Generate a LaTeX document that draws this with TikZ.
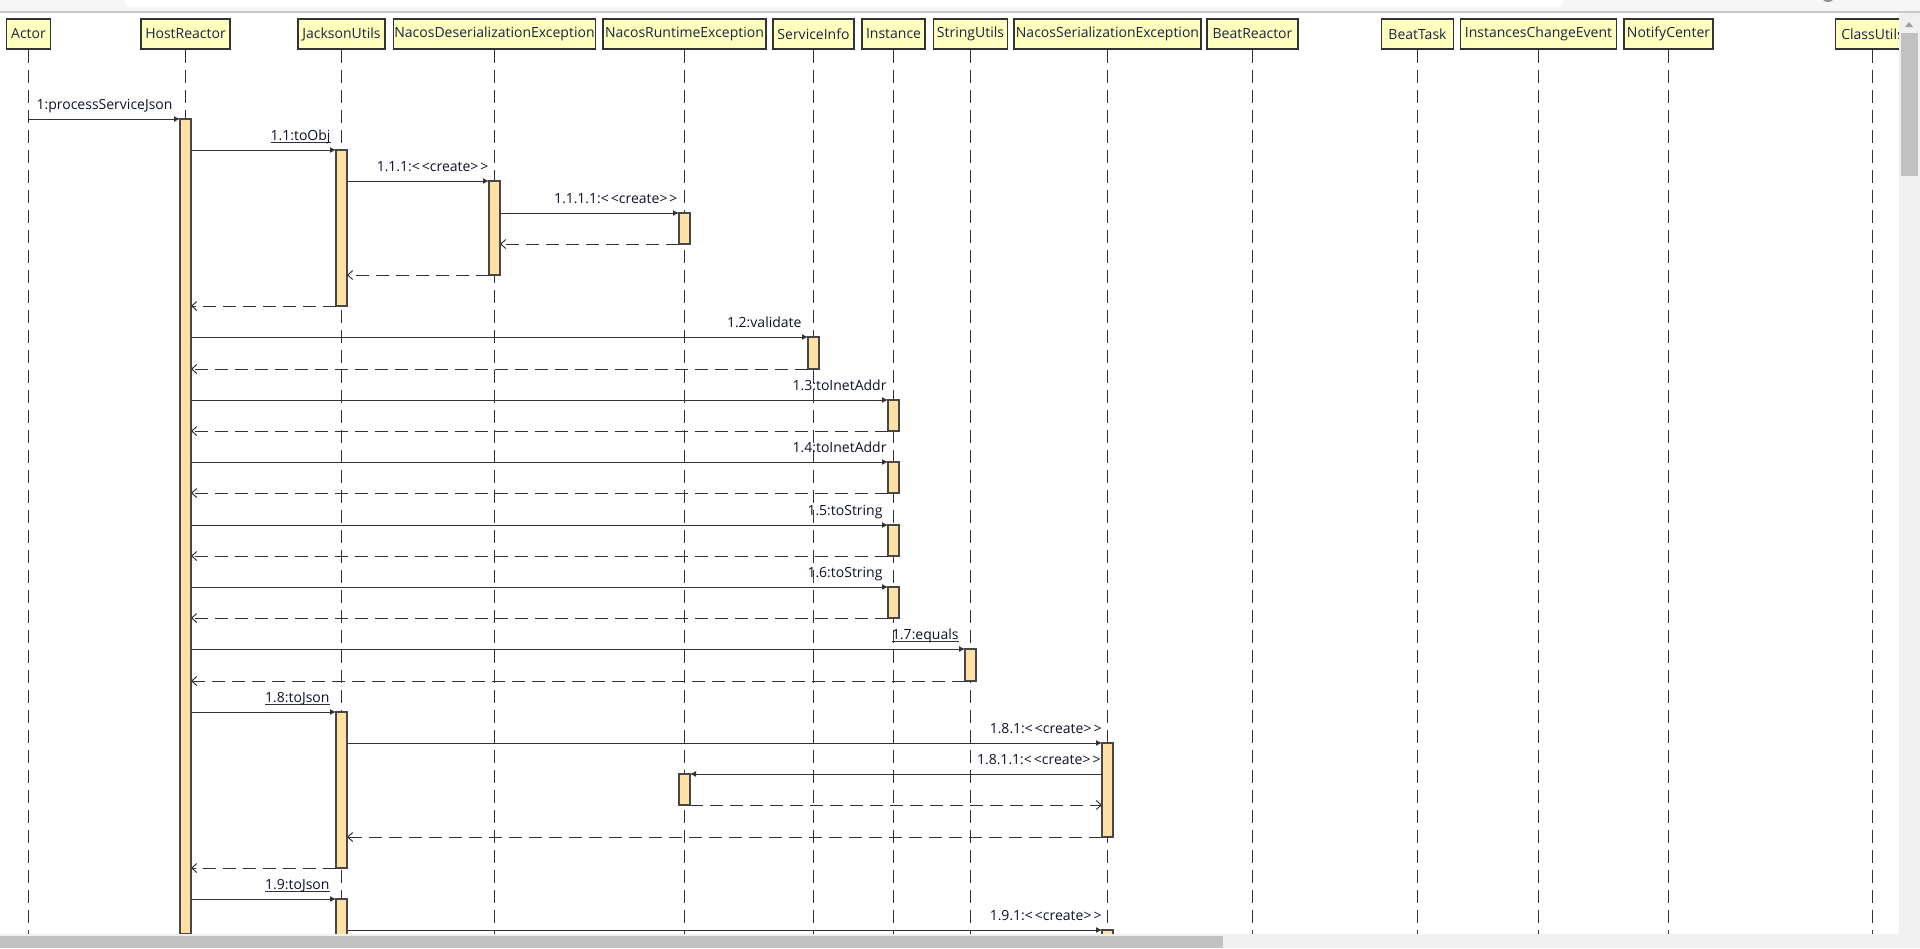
\documentclass[tikz,border=0pt]{standalone}
\usepackage{fontspec}
\usepackage{xcolor}
\usepackage{tikz}
\usetikzlibrary{arrows.meta, positioning}
\newfontfamily\umlfont{Open Sans}
\definecolor{headfill}{HTML}{FFFFC0}
\definecolor{actfill}{HTML}{FFE0A5}
\definecolor{linegray}{HTML}{333333}
\definecolor{headtxt}{HTML}{1A2440}
\definecolor{msgtxt}{HTML}{0C1228}
\definecolor{barbg}{HTML}{F0F0F0}
\definecolor{barthumb}{HTML}{C1C1C1}
\newcommand{\ulmsg}[1]{\setbox0\hbox{#1}\rlap{\color{linegray}\rule[-3pt]{\wd0}{1.2pt}}\box0}
\newcommand{\crt}{<\kern2pt<create>\kern2pt>}

\begin{document}
\begin{tikzpicture}[
  x=1pt, y=-1pt,
  head/.style={draw=linegray, line width=1.5pt, fill=headfill, minimum height=30, inner xsep=0, inner ysep=0, text=headtxt, font=\umlfont\fontsize{14}{16}\selectfont},
  life/.style={draw=linegray, line width=1.3pt, dash pattern=on 13pt off 7pt},
  act/.style={draw=linegray!90, line width=1.2pt, fill=actfill, minimum width=11, inner sep=0, outer sep=0, anchor=north},
  call/.style={draw=linegray, line width=1pt, -{Latex[length=6pt,width=6pt]}},
  ret/.style={draw=linegray, line width=1pt, dash pattern=on 13pt off 7pt, -{Straight Barb[length=5pt,width=9pt]}},
  lbl/.style={anchor=base east, inner sep=0, text=msgtxt, font=\umlfont\fontsize{14}{16}\selectfont}
]
  \useasboundingbox (0,0) rectangle (1920,948);

  % browser top bar
  \fill[barbg!60] (0,0) rectangle (1920,12);
  \fill[white, rounded corners=6] (125,-8) rectangle (1563,7);
  \draw[black!22, line width=1.5pt] (0,12) -- (1920,12);
  \fill[black!45] (1828,-5) circle (7);

  % participants
  \node[head, minimum width=44] (actor) at (28.5,34) {Actor};
  \node[head, minimum width=89] (host) at (185.5,34) {HostReactor};
  \node[head, minimum width=87] (jackson) at (341.5,34) {JacksonUtils};
  \node[head, minimum width=202] (deser) at (494.5,34) {NacosDeserializationException};
  \node[head, minimum width=163] (runtime) at (684.5,34) {NacosRuntimeException};
  \node[head, minimum width=81] (info) at (813.5,34) {ServiceInfo};
  \node[head, minimum width=63] (inst) at (893.5,34) {Instance};
  \node[head, minimum width=74] (strutil) at (970.5,34) {StringUtils};
  \node[head, minimum width=187] (ser) at (1107.5,34) {NacosSerializationException};
  \node[head, minimum width=91] (beat) at (1252.5,34) {BeatReactor};
  \node[head, minimum width=72] (task) at (1417.5,34) {BeatTask};
  \node[head, minimum width=156] (changeEv) at (1538.5,34) {InstancesChangeEvent};
  \node[head, minimum width=89] (notify) at (1668.5,34) {NotifyCenter};
  \node[head, minimum width=74] (classUtil) at (1872.5,34) {ClassUtils};

  \coordinate (bottom) at (0,934);
  \draw[life] (actor.south) -- (actor.south |- bottom);
  \draw[life] (host.south) -- (host.south |- bottom);
  \draw[life] (jackson.south) -- (jackson.south |- bottom);
  \draw[life] (deser.south) -- (deser.south |- bottom);
  \draw[life] (runtime.south) -- (runtime.south |- bottom);
  \draw[life] (info.south) -- (info.south |- bottom);
  \draw[life] (inst.south) -- (inst.south |- bottom);
  \draw[life] (strutil.south) -- (strutil.south |- bottom);
  \draw[life] (ser.south) -- (ser.south |- bottom);
  \draw[life] (beat.south) -- (beat.south |- bottom);
  \draw[life] (task.south) -- (task.south |- bottom);
  \draw[life] (changeEv.south) -- (changeEv.south |- bottom);
  \draw[life] (notify.south) -- (notify.south |- bottom);
  \draw[life] (classUtil.south) -- (classUtil.south |- bottom);

  % activations
  \node[act, minimum height=815] (aHost) at (host.south |- 0,119) {};
  \node[act, minimum height=156] (aJack1) at (jackson.south |- 0,150) {};
  \node[act, minimum height=94] (aDeser) at (deser.south |- 0,181) {};
  \node[act, minimum height=31] (aRun1) at (runtime.south |- 0,213) {};
  \node[act, minimum height=32] (aInfo) at (info.south |- 0,337) {};
  \node[act, minimum height=31] (aInst1) at (inst.south |- 0,400) {};
  \node[act, minimum height=31] (aInst2) at (inst.south |- 0,462) {};
  \node[act, minimum height=31] (aInst3) at (inst.south |- 0,525) {};
  \node[act, minimum height=31] (aInst4) at (inst.south |- 0,587) {};
  \node[act, minimum height=32] (aStr) at (strutil.south |- 0,649) {};
  \node[act, minimum height=156] (aJack2) at (jackson.south |- 0,712) {};
  \node[act, minimum height=94] (aSer1) at (ser.south |- 0,743) {};
  \node[act, minimum height=31] (aRun2) at (runtime.south |- 0,774) {};
  \node[act, minimum height=40] (aJack3) at (jackson.south |- 0,899) {};
  \node[act, minimum height=10] (aSer2) at (ser.south |- 0,930) {};

  % messages
  \draw[call] (actor.south |- aHost.north) -- node[lbl, at end, xshift=-7, yshift=10] {1:processServiceJson} (aHost.north west);
  \draw[call] (aHost.east |- aJack1.north) -- node[lbl, at end, xshift=-5, yshift=10] {\ulmsg{1.1:toObj}} (aJack1.north west);
  \draw[call] (aJack1.east |- aDeser.north) -- node[lbl, at end, yshift=10] {1.1.1:\crt} (aDeser.north west);
  \draw[call] (aDeser.east |- aRun1.north) -- node[lbl, at end, xshift=-1, yshift=10] {1.1.1.1:\crt} (aRun1.north west);
  \draw[ret] (aRun1.south west) -- (aDeser.east |- aRun1.south);
  \draw[ret] (aDeser.south west) -- (aJack1.east |- aDeser.south);
  \draw[ret] (aJack1.south west) -- (aHost.east |- aJack1.south);
  \draw[call] (aHost.east |- aInfo.north) -- node[lbl, at end, xshift=-6, yshift=10] {1.2:validate} (aInfo.north west);
  \draw[ret] (aInfo.south west) -- (aHost.east |- aInfo.south);
  \draw[call] (aHost.east |- aInst1.north) -- node[lbl, at end, xshift=-1, yshift=10] {1.3:toInetAddr} (aInst1.north west);
  \draw[ret] (aInst1.south west) -- (aHost.east |- aInst1.south);
  \draw[call] (aHost.east |- aInst2.north) -- node[lbl, at end, xshift=-1, yshift=10] {1.4:toInetAddr} (aInst2.north west);
  \draw[ret] (aInst2.south west) -- (aHost.east |- aInst2.south);
  \draw[call] (aHost.east |- aInst3.north) -- node[lbl, at end, xshift=-5, yshift=10] {1.5:toString} (aInst3.north west);
  \draw[ret] (aInst3.south west) -- (aHost.east |- aInst3.south);
  \draw[call] (aHost.east |- aInst4.north) -- node[lbl, at end, xshift=-5, yshift=10] {1.6:toString} (aInst4.north west);
  \draw[ret] (aInst4.south west) -- (aHost.east |- aInst4.south);
  \draw[call] (aHost.east |- aStr.north) -- node[lbl, at end, xshift=-6, yshift=10] {\ulmsg{1.7:equals}} (aStr.north west);
  \draw[ret] (aStr.south west) -- (aHost.east |- aStr.south);
  \draw[call] (aHost.east |- aJack2.north) -- node[lbl, at end, xshift=-6, yshift=10] {\ulmsg{1.8:toJson}} (aJack2.north west);
  \draw[call] (aJack2.east |- aSer1.north) -- node[lbl, at end, yshift=10] {1.8.1:\crt} (aSer1.north west);
  \draw[call] (aSer1.west |- aRun2.north) -- node[lbl, at start, xshift=-1, yshift=10] {1.8.1.1:\crt} (aRun2.north east);
  \draw[ret] (aRun2.south east) -- (aSer1.west |- aRun2.south);
  \draw[ret] (aSer1.south west) -- (aJack2.east |- aSer1.south);
  \draw[ret] (aJack2.south west) -- (aHost.east |- aJack2.south);
  \draw[call] (aHost.east |- aJack3.north) -- node[lbl, at end, xshift=-6, yshift=10] {\ulmsg{1.9:toJson}} (aJack3.north west);
  \draw[call] (aJack3.east |- aSer2.north) -- node[lbl, at end, yshift=10] {1.9.1:\crt} (aSer2.north west);

  % scroll bars
  \fill[barbg] (1899,13) rectangle (1920,948);
  \fill[black!38] (1905,27) -- (1909,22) -- (1913,27) -- cycle;
  \fill[barthumb] (1901,33) rectangle (1918,176);
  \fill[barbg] (0,934) rectangle (1920,948);
  \fill[barthumb] (0,936) rectangle (1223,948);
\end{tikzpicture}
\end{document}
